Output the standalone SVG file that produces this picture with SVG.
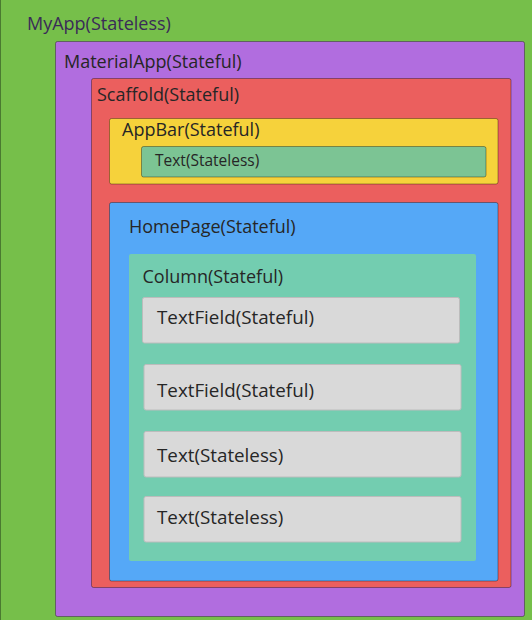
<svg xmlns="http://www.w3.org/2000/svg" width="532" height="620" viewBox="0 0 532 620">
<style>
.box{stroke:#000;stroke-opacity:0.35;stroke-width:1}
.lbl{font-family:"Open Sans","Noto Sans",sans-serif;font-size:18px;fill:#262626}
.sm{font-size:15.5px}
.item{font-family:"Open Sans","Noto Sans",sans-serif;font-size:18.8px;fill:#262626}
.gray{fill:#d9d9d9;stroke:#bcbcbc;stroke-width:1}
</style>
<g id="myapp">
<rect x="0" y="0" width="532" height="620" fill="#76bf4a"/>
<line x1="0.5" y1="0" x2="0.5" y2="620" stroke="#4a7a30" stroke-width="1"/>
<text class="lbl" x="27" y="30" style="fill:#3a2b58">MyApp(Stateless)</text>
</g>
<g id="materialapp">
<rect class="box" x="55.5" y="41.5" width="469" height="575" rx="2" fill="#b16ddf"/>
<text class="lbl" x="64" y="68">MaterialApp(Stateful)</text>
</g>
<g id="scaffold">
<rect class="box" x="91.5" y="78.5" width="419.5" height="509" rx="2" fill="#eb5f5e"/>
<text class="lbl" x="97" y="101">Scaffold(Stateful)</text>
</g>
<g id="appbar">
<rect class="box" x="109.5" y="118.5" width="388.5" height="65.5" rx="2" fill="#f6d23b"/>
<text class="lbl" x="122" y="136">AppBar(Stateful)</text>
</g>
<g id="appbar-text">
<rect class="box" x="141.5" y="146.5" width="344.5" height="30.5" rx="2" fill="#7cc494"/>
<text class="lbl sm" x="155" y="166">Text(Stateless)</text>
</g>
<g id="homepage">
<rect class="box" x="109.5" y="202.5" width="388.5" height="378.5" rx="2" fill="#55a8f7"/>
<text class="lbl" x="129" y="233">HomePage(Stateful)</text>
</g>
<g id="column">
<rect x="129" y="254" width="347" height="307" rx="2" fill="#73cdb0"/>
<text class="lbl" x="142.5" y="283">Column(Stateful)</text>
</g>
<g id="textfield1">
<rect class="gray" x="142.5" y="297.5" width="317" height="45.5" rx="2"/>
<text class="item" x="157" y="324">TextField(Stateful)</text>
</g>
<g id="textfield2">
<rect class="gray" x="144" y="364.5" width="317" height="45.5" rx="2"/>
<text class="item" x="157" y="397">TextField(Stateful)</text>
</g>
<g id="text1">
<rect class="gray" x="144" y="431.5" width="317" height="45.5" rx="2"/>
<text class="item" x="157" y="462">Text(Stateless)</text>
</g>
<g id="text2">
<rect class="gray" x="144" y="496.5" width="317" height="45.5" rx="2"/>
<text class="item" x="157" y="524">Text(Stateless)</text>
</g>
<g id="connectors"></g>
</svg>
